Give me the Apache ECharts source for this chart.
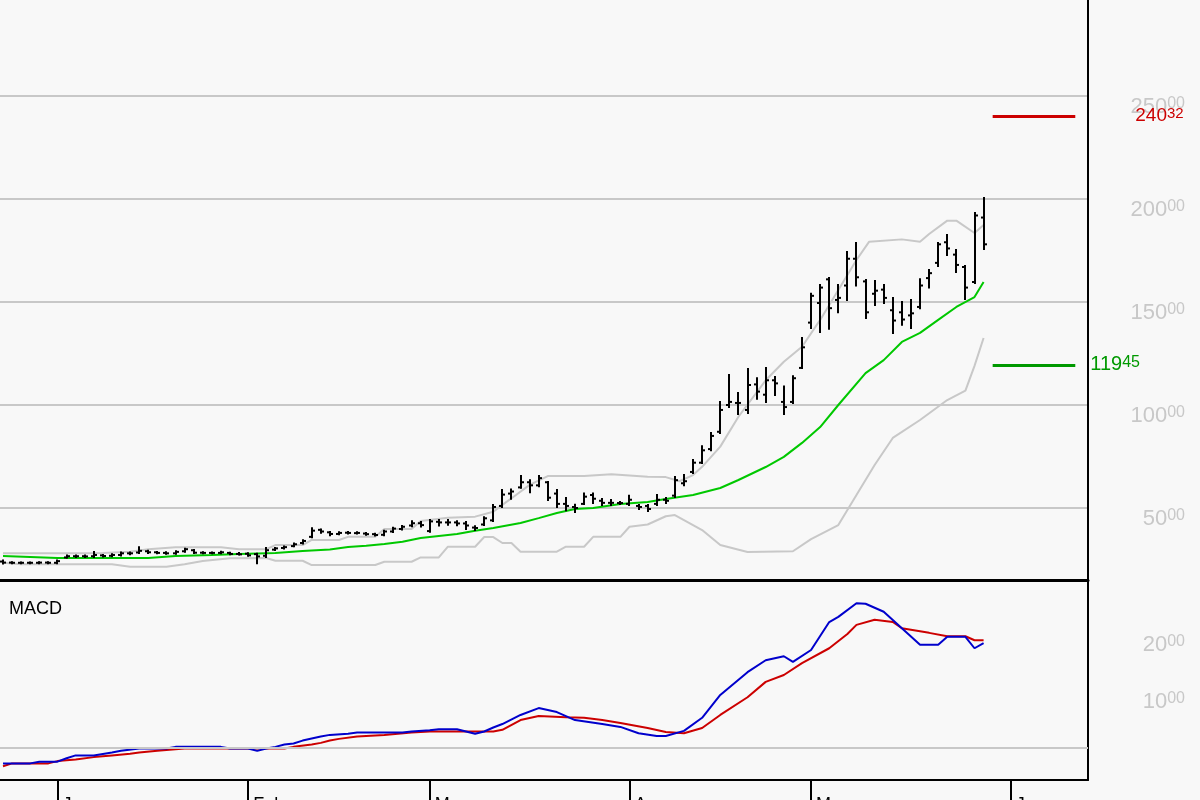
<!DOCTYPE html>
<html>
<head>
<meta charset="utf-8">
<script src="https://cdn.jsdelivr.net/npm/echarts@6/dist/echarts.min.js"></script>
<style>
  html, body { margin: 0; padding: 0; background: #f8f8f8; }
  #chart { width: 1200px; height: 800px; }
</style>
</head>
<body>
<div id="chart"></div>
<script>
// daily bars, index 0..108
var opens  = [24.0,23.5,23.4,23.4,23.4,23.5,23.4,26.0,26.6,26.6,26.6,27.0,26.8,27.2,28.0,28.4,29.0,28.5,28.2,28.0,
              29.0,29.5,28.3,28.2,28.2,28.2,27.7,27.8,27.6,26.8,29.8,30.6,31.5,33.0,36.0,39.4,38.2,37.4,38.0,37.8,
              37.6,37.3,37.0,38.6,39.8,41.5,42.6,38.8,43.3,43.0,43.0,42.5,40.5,42.0,44.0,51.0,57.0,60.0,62.5,61.0,
              62.5,57.0,52.0,50.5,52.0,56.3,53.5,52.5,52.4,52.0,51.0,51.0,52.0,54.0,56.0,62.0,67.5,72.0,78.6,87.0,
              100.0,101.0,97.6,110.0,105.0,112.0,101.5,101.5,118.0,140.0,149.5,161.0,151.0,158.0,171.0,160.0,154.0,156.0,146.0,145.0,
              143.5,147.6,161.6,169.0,179.0,173.0,167.0,159.7,191.0];
var highs  = [24.5,23.7,23.6,23.6,23.7,23.7,24.5,27.0,27.0,26.9,28.6,27.2,27.6,28.4,28.4,31.0,29.2,28.6,28.5,29.0,
              30.2,29.6,28.5,28.4,28.8,28.3,28.2,28.0,27.8,30.6,30.6,31.3,32.8,34.3,40.2,39.6,38.4,38.2,38.3,38.2,
              37.9,37.5,39.0,40.4,41.3,43.6,43.2,44.2,44.2,44.2,43.6,43.2,41.2,45.5,51.5,58.7,59.0,65.5,63.5,65.5,
              62.6,58.7,54.9,51.6,57.0,57.0,54.4,53.9,52.9,56.0,51.5,51.5,56.3,54.9,65.0,66.0,73.3,80.0,86.4,101.5,
              114.6,105.8,117.5,113.0,118.0,113.6,109.0,114.0,132.5,154.0,158.3,161.7,158.3,174.3,178.6,160.7,160.2,158.3,152.0,150.0,
              151.0,161.0,165.5,178.6,182.5,175.2,167.5,193.2,200.5];
var lows   = [23.0,23.2,23.2,23.2,23.2,23.2,23.2,26.0,26.2,26.2,26.2,26.4,26.6,27.0,27.6,28.2,28.2,28.0,27.8,27.8,
              28.8,28.2,28.0,28.0,28.0,27.5,27.4,26.8,23.2,26.2,29.6,30.4,31.4,32.8,35.8,38.0,36.8,37.2,37.6,37.6,
              37.0,36.7,36.8,38.4,39.6,41.2,41.0,38.5,41.5,41.9,41.6,39.8,39.3,41.8,43.7,50.5,54.5,59.8,57.6,60.5,
              53.9,50.5,48.9,48.1,52.0,52.4,51.5,51.5,51.9,51.5,49.5,48.5,51.5,52.4,55.3,61.0,67.0,71.8,78.0,86.4,
              99.0,95.6,96.1,103.0,101.5,104.9,95.6,101.0,118.0,137.4,135.4,137.0,145.0,151.0,158.0,142.2,148.5,149.5,135.0,139.0,
              137.4,147.0,157.0,167.5,172.8,164.6,151.5,159.2,175.7];
var closes = [23.5,23.4,23.4,23.4,23.5,23.4,24.2,26.6,26.6,26.5,27.2,26.7,27.2,28.0,28.0,29.2,28.5,28.2,28.0,28.7,
              30.0,28.3,28.2,28.2,28.5,27.7,27.5,27.0,26.5,29.5,30.4,31.0,32.4,34.0,39.0,38.6,37.4,37.9,37.9,37.9,
              37.3,36.9,38.6,40.0,40.9,42.6,41.7,43.5,43.0,43.0,42.5,41.5,40.3,45.0,50.5,56.5,58.0,62.5,61.0,64.5,
              55.0,52.0,51.0,50.0,55.5,54.5,52.5,52.5,52.4,54.0,50.5,49.5,54.0,53.5,63.5,63.0,72.0,78.0,85.0,97.6,
              101.5,101.0,109.7,106.5,112.0,110.5,99.0,113.0,128.0,153.0,157.0,147.0,152.0,171.0,162.0,145.0,155.5,152.0,141.0,141.5,
              144.5,158.0,164.0,178.0,176.0,168.0,157.0,192.0,178.0];

// indicator lines, [bar index, value]
var ma20 = [[0,26.7],[6,25.7],[16,25.7],[19,26.7],[23,27.2],[26,27.7],[30,28.2],[33,29.1],[36,29.9],[38,31.1],
            [40,31.7],[42,32.5],[44,33.6],[46,35.4],[48,36.4],[50,37.4],[52,39],[54,40.3],[57,42.7],[59,45.1],
            [61,47.6],[63,49.5],[65,50],[68,51.9],[71,52.9],[73,54.4],[76,56.3],[79,59.7],[81,63.6],[84,69.9],
            [86,74.8],[88,81.6],[90,89.3],[92,100],[95,115.5],[97,121.8],[99,130.6],[101,135],[103,141.3],
            [105,147.6],[107,152.4],[108,159.7]];
var bandUp = [[0,28],[9,28],[11,28.2],[14,28.8],[16,30],[19,30.9],[24,30.9],[26,30],[29,30],[30,32],[33,32],
              [34,34.5],[37,34.5],[38,36],[41,36],[42,39.8],[45,39.8],[46,43.7],[49,45.3],[52,45.8],[54,48.2],
              [55,51.5],[56.5,56.3],[58,61.2],[60,65.5],[64,65.5],[67,66.4],[71,65.2],[73,65],[74.5,63],[76,66],
              [77,70],[79,79.8],[81,94.3],[84,112],[86,121],[88,128.3],[90,141.3],[92,155.8],[94,170.4],
              [95.4,179.3],[99,180.4],[101,179.3],[102,183],[104,189.5],[105,189.5],[107,183.5],[108,187.4]];
var bandLow = [[0,23.4],[2,22.7],[12,22.7],[14,21.5],[18,21.5],[20,22.7],[22,24.3],[25,25.6],[29,25.7],
               [30,24.4],[33,24.4],[34,22.3],[41,22.3],[42,23.9],[45,23.9],[46,26],[48,26],[49,31.2],[52,31.2],
               [53,35.9],[54,35.9],[55,33],[56,33],[57,28.8],[61,28.8],[62,31.2],[64,31.2],[65,36],[68,36],
               [69,40.9],[71,42],[73,46],[74,46.6],[77,39.3],[79,32],[82,28.6],[87,29],[89,34.9],[92,41.7],
               [94,56.3],[96,70.9],[98,84],[101,92.7],[104,102.4],[106,107],[107,119],[108,132.5]];
var macdLine = [[0,-2.7],[3,-2.7],[4,-2.4],[6,-2.4],[7,-1.8],[8,-1.3],[10,-1.3],[11,-1.05],[12,-0.8],[13,-0.5],
                [15,-0.1],[18,-0.1],[19,0.2],[24,0.2],[25,-0.1],[27,-0.1],[28,-0.5],[29,-0.1],[30,0.2],[31,0.6],
                [32,0.8],[33,1.3],[35,2],[36,2.3],[38,2.5],[39,2.7],[44,2.7],[45,2.9],[47,3.1],[48,3.3],[50,3.3],
                [51,2.9],[52,2.5],[53,2.9],[54,3.6],[55,4.2],[57,5.8],[59,7],[61,6.3],[63,4.9],[66,4.2],[68,3.7],
                [70,2.6],[72,2.1],[73,2.1],[75,3],[77,5.3],[79,9.3],[82,13.3],[84,15.4],[86,16.1],[87,15.1],
                [89,17.2],[91,22.1],[92,23],[94,25.4],[95,25.3],[97,23.9],[99,21],[101,18.1],[103,18.1],
                [104,19.5],[106,19.5],[107,17.5],[108,18.4]];
var signalLine = [[0,-3.2],[1,-2.7],[5,-2.7],[6,-2.3],[8,-2],[10,-1.6],[12,-1.3],[14,-1],[15,-0.8],[17,-0.5],
                  [20,-0.1],[31,-0.1],[32,0.2],[34,0.6],[35,0.9],[36,1.3],[37,1.6],[39,2],[42,2.3],[45,2.7],
                  [47,2.9],[54,2.9],[55,3.2],[57,4.9],[59,5.6],[62,5.4],[64,5.3],[66,4.9],[68,4.4],[71,3.5],
                  [73,2.8],[75,2.6],[77,3.5],[79,5.8],[82,8.9],[84,11.6],[86,12.8],[88,14.9],[91,17.5],[93,20],
                  [94,21.6],[96,22.5],[98,22.1],[99,21],[102,20.2],[104,19.6],[106,19.6],[107,18.9],[108,18.9]];

var redLevel = 240.32, greenLevel = 119.45;
var monthTicks = [6, 27, 47, 69, 89, 111];
var monthNames = ['Jan', 'Feb', 'Mar', 'Apr', 'May', 'Jun'];

var XMIN = -0.33, XMAX = 119.5;
var FONT = 'Liberation Sans';
var LBL = '#c8c8c8';

window.onload = function () {
    var bars = [];
    for (var i = 0; i < closes.length; i++) {
        bars.push([i, opens[i], highs[i], lows[i], closes[i]]);
    }

    function renderBar(params, api) {
        var x = api.value(0);
        var o = api.coord([x, api.value(1)]);
        var h = api.coord([x, api.value(2)]);
        var l = api.coord([x, api.value(3)]);
        var c = api.coord([x, api.value(4)]);
        var px = Math.round(h[0]);
        var st = { stroke: '#000', lineWidth: 2 };
        return {
            type: 'group',
            children: [
                { type: 'line', shape: { x1: px, y1: h[1] - 1, x2: px, y2: l[1] + 1 }, style: st },
                { type: 'line', shape: { x1: px - 3, y1: o[1], x2: px, y2: o[1] }, style: st },
                { type: 'line', shape: { x1: px, y1: c[1], x2: px + 3, y2: c[1] }, style: st }
            ]
        };
    }

    function splitNum(v) {
        var s = v.toFixed(2).split('.');
        return '{a|' + s[0] + '}{b|' + s[1] + '}';
    }

    function richFor(color, big, small) {
        return {
            a: { fontFamily: FONT, fontSize: big, color: color, lineHeight: big },
            b: { fontFamily: FONT, fontSize: small, color: color, lineHeight: big, verticalAlign: 'top' }
        };
    }

    var chart = echarts.init(document.getElementById('chart'));
    var option = {
        backgroundColor: '#f8f8f8',
        animation: false,
        title: {
            text: 'MACD', left: 4, top: 595,
            textStyle: { fontFamily: FONT, fontSize: 18, fontWeight: 'normal', color: '#000' }
        },
        grid: [
            { left: 0, width: 1088, top: -7, height: 618, outerBoundsMode: 'none', containLabel: false },
            { left: 0, width: 1088, top: 577, height: 228, outerBoundsMode: 'none', containLabel: false },
            { left: 0, width: 1088, top: 580, height: 200, outerBoundsMode: 'none', containLabel: false }
        ],
        xAxis: [
            { type: 'value', gridIndex: 0, min: XMIN, max: XMAX, show: false },
            { type: 'value', gridIndex: 1, min: XMIN, max: XMAX, show: false },
            {
                type: 'value', gridIndex: 2, min: XMIN, max: XMAX, position: 'bottom',
                axisLine: { show: true, onZero: false, lineStyle: { color: '#000', width: 2 } },
                axisTick: { show: true, customValues: monthTicks, length: 20, lineStyle: { color: '#000', width: 2 } },
                axisLabel: {
                    customValues: monthTicks, margin: 16, align: 'left', padding: [0, 0, 0, 5],
                    fontFamily: FONT, fontSize: 18, color: '#000',
                    formatter: function (v) {
                        var k = monthTicks.indexOf(Math.round(v));
                        return k < 0 ? '' : monthNames[k];
                    }
                },
                splitLine: { show: false }
            },
            {
                type: 'value', gridIndex: 2, min: XMIN, max: XMAX, position: 'top',
                axisLine: { show: true, onZero: false, lineStyle: { color: '#000', width: 3 } },
                axisTick: { show: false }, axisLabel: { show: false }, splitLine: { show: false }
            }
        ],
        yAxis: [
            {
                type: 'value', gridIndex: 0, min: 0, max: 300, interval: 50, position: 'right',
                axisLine: { show: true, onZero: false, lineStyle: { color: '#000', width: 2 } },
                axisTick: { show: false },
                splitLine: { show: true, showMinLine: false, showMaxLine: false, lineStyle: { color: '#c8c8c8', width: 2 } },
                axisLabel: {
                    align: 'right', verticalAlign: 'top', margin: 97,
                    formatter: function (v) { return (v <= 0 || v >= 300) ? '' : '{a|' + v + '}{b|00}'; },
                    rich: richFor(LBL, 22, 16)
                }
            },
            {
                type: 'value', gridIndex: 1, min: -10, max: 30, interval: 10, position: 'right',
                axisLine: { show: false, onZero: false }, axisTick: { show: false }, splitLine: { show: false },
                axisLabel: {
                    align: 'right', verticalAlign: 'top', margin: 97,
                    formatter: function (v) { return (v === 10 || v === 20) ? '{a|' + v + '}{b|00}' : ''; },
                    rich: richFor(LBL, 22, 16)
                }
            },
            {
                type: 'value', gridIndex: 2, min: 0, max: 1, position: 'right',
                axisLine: { show: true, onZero: false, lineStyle: { color: '#000', width: 2 } },
                axisTick: { show: false }, axisLabel: { show: false }, splitLine: { show: false }
            }
        ],
        series: [
            {
                name: 'upper', type: 'line', xAxisIndex: 0, yAxisIndex: 0, data: bandUp,
                showSymbol: false, silent: true, lineStyle: { color: '#c8c8c8', width: 2 }, z: 2
            },
            {
                name: 'lower', type: 'line', xAxisIndex: 0, yAxisIndex: 0, data: bandLow,
                showSymbol: false, silent: true, lineStyle: { color: '#c8c8c8', width: 2 }, z: 2
            },
            {
                name: 'ma20', type: 'line', xAxisIndex: 0, yAxisIndex: 0, data: ma20,
                showSymbol: false, silent: true, lineStyle: { color: '#00c800', width: 2 }, z: 3,
                markLine: {
                    silent: true, symbol: ['none', 'none'],
                    data: [
                        [
                            {
                                coord: [109.0, redLevel], lineStyle: { color: '#cc0000', width: 3, type: 'solid' },
                                label: { show: true, position: 'end', distance: 60, formatter: splitNum(redLevel), rich: richFor('#cc0000', 19, 15) }
                            },
                            { coord: [118.1, redLevel] }
                        ],
                        [
                            {
                                coord: [109.0, greenLevel], lineStyle: { color: '#009900', width: 3, type: 'solid' },
                                label: { show: true, position: 'end', distance: 15, formatter: splitNum(greenLevel), rich: richFor('#009900', 20, 16) }
                            },
                            { coord: [118.1, greenLevel] }
                        ]
                    ]
                }
            },
            {
                name: 'price', type: 'custom', xAxisIndex: 0, yAxisIndex: 0, data: bars,
                renderItem: renderBar, encode: { x: 0, y: [1, 2, 3, 4] }, z: 4
            },
            {
                name: 'signal', type: 'line', xAxisIndex: 1, yAxisIndex: 1, data: signalLine,
                showSymbol: false, silent: true, lineStyle: { color: '#cc0000', width: 2 }, z: 3,
                markLine: {
                    silent: true, symbol: ['none', 'none'], label: { show: false },
                    lineStyle: { color: '#c8c8c8', width: 2, type: 'solid' },
                    data: [{ yAxis: 0 }]
                }
            },
            {
                name: 'macd', type: 'line', xAxisIndex: 1, yAxisIndex: 1, data: macdLine,
                showSymbol: false, silent: true, lineStyle: { color: '#0000cc', width: 2 }, z: 4
            }
        ]
    };
    chart.setOption(option);
};
</script>
</body>
</html>
